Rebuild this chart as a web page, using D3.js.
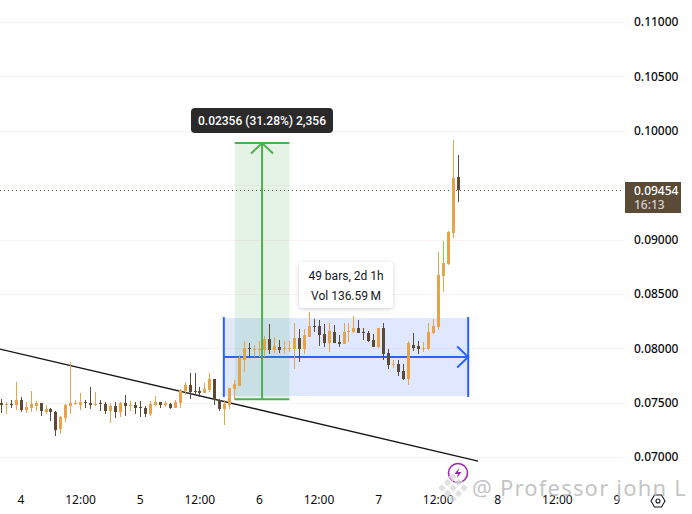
<!DOCTYPE html>
<html>
<head>
<meta charset="utf-8">
<script src="https://cdn.jsdelivr.net/npm/d3@7"></script>
<style>
  html, body { margin: 0; padding: 0; background: #fff; overflow: hidden; }
  text { font-family: "Noto Sans", Roboto, sans-serif; }
</style>
</head>
<body>
<div id="chart"></div>
<script>
const width = 692
const height = 514
const FONT = '"Noto Sans", Roboto, sans-serif'

// hourly candles, values in ticks of 0.00001
const opens = [
  7497,7478,7488,7478,7524,7432,7451,7469,7497,7414,
  7442,7414,7258,7359,7469,7488,7478,7506,7497,7478,
  7497,7488,7423,7469,7414,7497,7469,7478,7460,7451,
  7396,7478,7506,7478,7488,7451,7497,7607,7662,7607,
  7607,7589,7616,7717,7524,7442,7478,7625,7653,7892,
  8002,7984,7984,7984,8085,7984,8012,7993,7993,7993,
  8094,7993,8104,8205,8205,8131,8048,8150,8058,8039,
  8150,8150,8186,8150,8140,8076,8012,8186,7956,7846,
  7855,7791,7717,8030,8021,7993,7993,8140,8196,8665,
  8775,9060,9575]
const closes = [
  7478,7488,7478,7524,7432,7460,7488,7497,7423,7442,
  7414,7248,7368,7478,7497,7497,7506,7497,7478,7488,
  7488,7423,7469,7414,7497,7469,7478,7451,7451,7396,
  7488,7506,7478,7497,7451,7506,7616,7662,7598,7598,
  7589,7625,7717,7524,7442,7488,7635,7671,7910,8002,
  7993,7993,7993,8085,7984,8021,7984,8002,8002,8094,
  7993,8122,8205,8196,8122,8048,8159,8048,8039,8150,
  8159,8186,8140,8140,8067,8012,8186,7947,7846,7855,
  7782,7717,8048,8002,7993,8002,8150,8205,8674,8784,
  9069,9566,9454]
const highs = [
  7533,7506,7524,7690,7552,7506,7607,7515,7497,7478,
  7451,7423,7377,7488,7874,7524,7589,7524,7644,7598,
  7524,7506,7497,7506,7506,7570,7515,7506,7515,7469,
  7515,7561,7506,7515,7497,7524,7625,7690,7773,7773,
  7644,7681,7773,7717,7533,7524,7635,7708,7938,8067,
  8048,8030,8067,8113,8223,8104,8076,8067,8067,8232,
  8177,8177,8333,8269,8260,8223,8232,8214,8122,8232,
  8232,8297,8260,8186,8159,8131,8186,8232,7993,7892,
  7892,7855,8067,8140,8067,8058,8232,8269,8885,8986,
  9078,9915,9777]
const lows = [
  7405,7396,7451,7432,7414,7405,7414,7423,7377,7396,
  7331,7193,7212,7322,7396,7478,7432,7451,7442,7469,
  7423,7396,7313,7359,7368,7377,7423,7396,7368,7368,
  7377,7469,7451,7460,7442,7451,7451,7570,7533,7570,
  7552,7589,7598,7478,7423,7294,7442,7524,7653,7782,
  7920,7920,7920,7920,7947,7956,7956,7956,7966,7809,
  7874,7947,8104,8150,8021,8012,7966,8048,8012,8039,
  8058,8140,8140,8076,8058,8012,8002,7892,7809,7818,
  7745,7708,7662,7975,7947,7966,7984,8131,8168,8517,
  8766,9014,9345]

// axis ticks
const priceTicks = [0.07, 0.075, 0.08, 0.085, 0.09, 0.095, 0.10, 0.105, 0.11]
const shownPriceTicks = priceTicks.filter(d => d !== 0.095)   // covered by the last price label
const timeTickBars = [4, 16, 28, 40, 52, 64, 76, 88, 100, 112, 124]
const timeTickLabels = ['4', '12:00', '5', '12:00', '6', '12:00', '7', '12:00', '8', '12:00', '9']

// drawings
const lastPrice = 0.09454
const lastPriceLabel = '0.09454'
const countdownLabel = '16:13'
const trendBars = [-0.26, 96]
const trendPrices = [0.07993, 0.06963]
const rangeBars = [47, 58]
const rangePrices = [0.07531, 0.09887]
const rangeLabel = '0.02356 (31.28%) 2,356'
const boxBars = [44.8, 94]
const boxPrices = [0.07561, 0.08278]
const boxMidPrice = 0.0792
const boxLabels = ['49 bars, 2d 1h', 'Vol 136.59\u2009M']
const watermark = '@ Professor john L'

const UP = '#e5a44a'
const DOWN = '#5b4a36'
const BLUE = '#2962ff'
const GREEN = '#4caf50'

const candles = opens.map((o, i) => ({ i, o: o / 1e5, c: closes[i] / 1e5, h: highs[i] / 1e5, l: lows[i] / 1e5 }))

const x = d3.scaleLinear().domain([0, 124]).range([1.3, 617.2])
const y = d3.scaleLinear().domain([0.07, 0.11]).range([457, 22])

const svg = d3.select('#chart').append('svg')
  .attr('width', width)
  .attr('height', height)
  .style('display', 'block')

const defs = svg.append('defs')
const shadow = defs.append('filter').attr('id', 'soft').attr('x', '-20%').attr('y', '-30%').attr('width', '140%').attr('height', '160%')
shadow.append('feDropShadow').attr('dx', 0).attr('dy', 1).attr('stdDeviation', 2).attr('flood-color', '#000').attr('flood-opacity', 0.2)

// Grid
svg.append('g').selectAll('line')
  .data(priceTicks)
  .join('line')
    .attr('x1', 0).attr('x2', 624)
    .attr('y1', d => Math.round(y(d)) + 0.5).attr('y2', d => Math.round(y(d)) + 0.5)
    .attr('stroke', '#fdf0f4')

// Last price line
svg.append('line')
  .attr('x1', 0).attr('x2', 624)
  .attr('y1', Math.round(y(lastPrice)) + 0.5).attr('y2', Math.round(y(lastPrice)) + 0.5)
  .attr('stroke', DOWN)
  .attr('stroke-dasharray', '1 3')

// Blue date/price range box
const boxG = svg.append('g')
boxG.append('rect')
  .attr('x', x(boxBars[0])).attr('width', x(boxBars[1]) - x(boxBars[0]))
  .attr('y', y(boxPrices[1])).attr('height', y(boxPrices[0]) - y(boxPrices[1]))
  .attr('fill', BLUE).attr('fill-opacity', 0.15)
boxG.selectAll('line.edge')
  .data(boxBars)
  .join('line')
    .attr('class', 'edge')
    .attr('x1', d => x(d)).attr('x2', d => x(d))
    .attr('y1', y(boxPrices[1]) - 1).attr('y2', y(boxPrices[0]) + 1)
    .attr('stroke', BLUE).attr('stroke-width', 2)
boxG.append('line')
  .attr('x1', x(boxBars[0])).attr('x2', x(boxBars[1]))
  .attr('y1', y(boxMidPrice)).attr('y2', y(boxMidPrice))
  .attr('stroke', BLUE).attr('stroke-width', 2)
boxG.append('path')
  .attr('d', `M${x(boxBars[1]) - 11},${y(boxMidPrice) - 10.5}L${x(boxBars[1])},${y(boxMidPrice)}L${x(boxBars[1]) - 11},${y(boxMidPrice) + 10.5}`)
  .attr('fill', 'none').attr('stroke', BLUE).attr('stroke-width', 2)

// Green price range
const rangeG = svg.append('g')
const midBar = x(d3.mean(rangeBars))
rangeG.append('rect')
  .attr('x', x(rangeBars[0])).attr('width', x(rangeBars[1]) - x(rangeBars[0]))
  .attr('y', y(rangePrices[1])).attr('height', y(rangePrices[0]) - y(rangePrices[1]))
  .attr('fill', GREEN).attr('fill-opacity', 0.15)
rangeG.selectAll('line.edge')
  .data(rangePrices)
  .join('line')
    .attr('class', 'edge')
    .attr('x1', x(rangeBars[0])).attr('x2', x(rangeBars[1]))
    .attr('y1', d => y(d)).attr('y2', d => y(d))
    .attr('stroke', GREEN).attr('stroke-width', 2)
rangeG.append('line')
  .attr('x1', midBar).attr('x2', midBar)
  .attr('y1', y(rangePrices[0])).attr('y2', y(rangePrices[1]))
  .attr('stroke', GREEN).attr('stroke-width', 2)
rangeG.append('path')
  .attr('d', `M${midBar - 11},${y(rangePrices[1]) + 10.5}L${midBar},${y(rangePrices[1])}L${midBar + 11},${y(rangePrices[1]) + 10.5}`)
  .attr('fill', 'none').attr('stroke', GREEN).attr('stroke-width', 2)

// Trend line
svg.append('line')
  .attr('x1', x(trendBars[0])).attr('x2', x(trendBars[1]))
  .attr('y1', y(trendPrices[0])).attr('y2', y(trendPrices[1]))
  .attr('stroke', '#16161a').attr('stroke-width', 1.3)

// Candles
const candle = svg.append('g').selectAll('g')
  .data(candles)
  .join('g')
    .attr('transform', d => `translate(${Math.round(x(d.i) - 0.5)},0)`)
    .attr('fill', d => d.c >= d.o ? UP : DOWN)
candle.append('rect')
  .attr('x', 0).attr('width', 1)
  .attr('y', d => y(d.h)).attr('height', d => y(d.l) - y(d.h))
candle.append('rect')
  .attr('x', -1).attr('width', 3)
  .attr('y', d => y(Math.max(d.o, d.c)))
  .attr('height', d => Math.max(1, Math.abs(y(d.o) - y(d.c))))

// Dark range label
const darkG = svg.append('g')
darkG.append('rect')
  .attr('x', 191).attr('y', 108).attr('width', 142).attr('height', 25).attr('rx', 4)
  .attr('fill', '#2a2a2a')
darkG.append('text')
  .attr('x', 262).attr('y', 124.5)
  .attr('text-anchor', 'middle')
  .attr('fill', '#fff').attr('font-size', 12).attr('font-weight', 500)
  .style('font-family', 'Roboto')
  .text(rangeLabel)

// White bars/volume label
const whiteG = svg.append('g')
whiteG.append('rect')
  .attr('x', 299).attr('y', 262).attr('width', 94).attr('height', 46).attr('rx', 4)
  .attr('fill', '#fff').attr('filter', 'url(#soft)')
whiteG.selectAll('text')
  .data(boxLabels)
  .join('text')
    .attr('x', 346).attr('y', (d, i) => 279.5 + i * 20)
    .attr('text-anchor', 'middle')
    .attr('fill', '#131722').attr('font-size', 12)
    .style('font-family', 'Roboto')
    .text(d => d)

// Price axis
const yAxis = svg.append('g')
  .attr('transform', 'translate(634,0)')
  .call(d3.axisRight(y).tickValues(shownPriceTicks).tickSize(0).tickPadding(0).tickFormat(d3.format('.5f')))
yAxis.select('.domain').remove()
yAxis.selectAll('text')
  .attr('fill', '#0b0b0e').attr('font-size', 12).attr('font-weight', 500)
  .style('font-family', FONT)

// Last price label
svg.append('rect')
  .attr('x', 625).attr('y', 182).attr('width', 56).attr('height', 31)
  .attr('fill', DOWN)
svg.append('text')
  .attr('x', 634).attr('y', 194.5)
  .attr('fill', '#fff').attr('font-size', 12).attr('font-weight', 500)
  .text(lastPriceLabel)
svg.append('text')
  .attr('x', 634).attr('y', 209)
  .attr('fill', '#d6d1cb').attr('font-size', 12).attr('font-weight', 500)
  .text(countdownLabel)

// Time axis
const xAxis = svg.append('g')
  .attr('transform', 'translate(-0.7,491)')
  .call(d3.axisBottom(x).tickValues(timeTickBars).tickSize(0).tickPadding(4)
    .tickFormat((d, i) => timeTickLabels[i]))
xAxis.select('.domain').remove()
xAxis.selectAll('text')
  .attr('fill', '#0b0b0e').attr('font-size', 12)
  .style('font-family', FONT)

// Settings icon
const gear = svg.append('g').attr('transform', 'translate(658,501)')
const hex = d3.range(6).map(k => [7 * Math.cos(k * Math.PI / 3), 7 * Math.sin(k * Math.PI / 3)])
gear.append('path').attr('d', d3.line()(hex) + 'Z').attr('fill', 'none').attr('stroke', '#131722').attr('stroke-width', 1.1)
gear.append('circle').attr('r', 2).attr('fill', 'none').attr('stroke', '#131722').attr('stroke-width', 1.1)

// Flash marker
const flash = svg.append('g').attr('transform', 'translate(458,473)')
flash.append('circle').attr('r', 9.5).attr('fill', '#fff').attr('stroke', '#9c27b0').attr('stroke-width', 1.6)
flash.append('path').attr('d', 'M1.5,-5.5L-3.5,1H0L-1.5,5.5L3.5,-1H0Z').attr('fill', '#9c27b0')

// Watermark logo + text
const logo = svg.append('g').attr('transform', 'translate(453,488)').attr('opacity', 0.75)
const logoCells = [[0, -11], [-5.5, -5.5], [5.5, -5.5], [-11, 0], [0, 0], [11, 0], [-5.5, 5.5], [5.5, 5.5], [0, 11]]
logo.selectAll('rect')
  .data(logoCells)
  .join('rect')
    .attr('x', -3).attr('y', -3).attr('width', 6).attr('height', 6)
    .attr('transform', d => `translate(${d[0]},${d[1]}) rotate(45)`)
    .attr('fill', '#d6d6d6').attr('stroke', '#fff').attr('stroke-width', 0.8)
svg.append('text')
  .attr('x', 472).attr('y', 496)
  .attr('fill', '#b4b4b4').attr('fill-opacity', 0.8)
  .attr('font-size', 22).attr('letter-spacing', 1.2)
  .text(watermark)
</script>
</body>
</html>
